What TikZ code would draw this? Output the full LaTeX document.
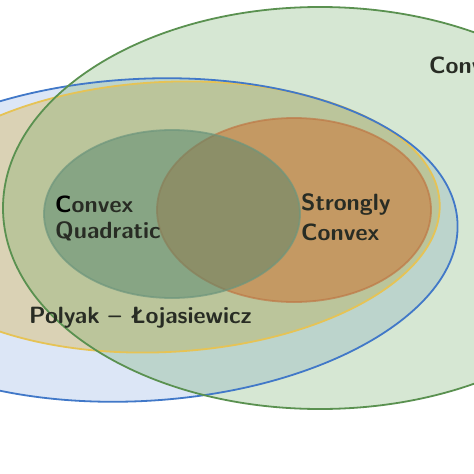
\documentclass[tikz,border=0pt]{standalone}
\usetikzlibrary{calc}
\definecolor{gline}{RGB}{90,145,80}
\definecolor{gfill}{RGB}{95,160,80}
\definecolor{bline}{RGB}{65,120,200}
\definecolor{bfill}{RGB}{80,130,210}
\definecolor{yline}{RGB}{230,195,85}
\definecolor{yfill}{RGB}{215,175,60}
\definecolor{qline}{RGB}{110,150,125}
\definecolor{qfill}{RGB}{85,135,110}
\definecolor{oline}{RGB}{190,120,70}
\definecolor{ofill}{RGB}{205,110,45}
\definecolor{txt}{RGB}{40,44,36}
\tikzset{
  setline/.style={line width=1.8pt},
  lbl/.style={anchor=base west, inner sep=0pt, text=txt, font=\sffamily\bfseries\fontsize{23.5}{28}\selectfont}
}
\begin{document}
\begin{tikzpicture}[x=1pt,y=-1pt]
\useasboundingbox (0,0) rectangle (474,474);
\fill[white] (0,0) rectangle (474,474);
% blue
\fill[bfill, fill opacity=0.2, rotate around={3.3:(140,240)}] (140,240) ellipse [x radius=318, y radius=161];
% yellow
\fill[yfill, fill opacity=0.35, rotate around={3:(165,217)}] (165,217) ellipse [x radius=275, y radius=135];
% green
\fill[gfill, fill opacity=0.25] (320,208) ellipse [x radius=317, y radius=201];
\draw[yline, setline, rotate around={3:(165,217)}] (165,217) ellipse [x radius=275, y radius=135];
\draw[bline, setline, rotate around={3.3:(140,240)}] (140,240) ellipse [x radius=318, y radius=161];
\draw[gline, setline] (320,208) ellipse [x radius=317, y radius=201];
% strongly convex
\fill[ofill, fill opacity=0.5] (294,210) ellipse [x radius=137, y radius=92];
\draw[oline, setline, opacity=0.7] (294,210) ellipse [x radius=137, y radius=92];
% convex quadratic
\fill[qfill, fill opacity=0.5] (172,214) ellipse [x radius=128, y radius=84];
\draw[qline, setline, opacity=0.7] (172,214) ellipse [x radius=128, y radius=84];
% labels
\node[lbl] (cv) at (429,73) {Convex};
\node[lbl] (cq1) at (55,212) {{\color{black}C}onvex};
\node[lbl] (cq2) at (55,238) {Quadratic};
\node[lbl] (sc1) at (301,210) {Strongly};
\node[lbl] (sc2) at (301,240) {Convex};
\node[lbl] (pl) at (29,323) {Polyak -- Łojasiewicz};
\end{tikzpicture}
\end{document}
